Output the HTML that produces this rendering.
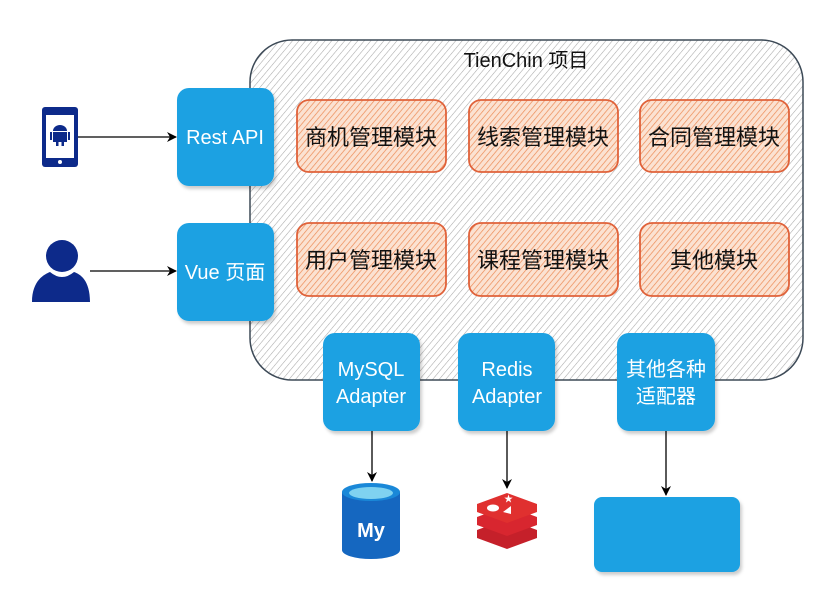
<!DOCTYPE html>
<html><head><meta charset="utf-8"><style>
html,body{margin:0;padding:0;background:#fff;}
svg text{font-family:"Liberation Sans","Noto Sans CJK SC",sans-serif;}
</style></head><body>
<svg width="820" height="596" viewBox="0 0 820 596" xmlns="http://www.w3.org/2000/svg">
<defs>
<pattern id="h" width="5" height="5" patternUnits="userSpaceOnUse" patternTransform="rotate(40)">
<rect width="5" height="5" fill="#fff"/><line x1="0" y1="0" x2="0" y2="5" stroke="#a8a8a8" stroke-width="1.1"/>
</pattern>
<pattern id="o" width="4.5" height="4.5" patternUnits="userSpaceOnUse" patternTransform="rotate(40)">
<rect width="4.5" height="4.5" fill="#fbe2d2"/><line x1="0" y1="0" x2="0" y2="4.5" stroke="#ec8a55" stroke-width="1.4"/>
</pattern>
<marker id="a" markerWidth="10" markerHeight="10" refX="9" refY="5" orient="auto" markerUnits="userSpaceOnUse">
<path d="M0,0 L10,5 L0,10 L3,5 Z" fill="#000"/></marker>
<filter id="s" x="-10%" y="-10%" width="130%" height="130%"><feDropShadow dx="2" dy="3" stdDeviation="1.5" flood-color="#000" flood-opacity="0.2"/></filter>
</defs>
<rect x="250" y="40" width="553" height="340" rx="42" fill="url(#h)" stroke="#3d4a57" stroke-width="1.5"/>
<text x="526" y="67" font-size="20" text-anchor="middle" fill="#111">TienChin 项目</text>
<g fill="url(#o)" stroke="#e0623a" stroke-width="1.8">
<rect x="297" y="100" width="149" height="72" rx="12"/>
<rect x="469" y="100" width="149" height="72" rx="12"/>
<rect x="640" y="100" width="149" height="72" rx="12"/>
<rect x="297" y="223" width="149" height="73" rx="12"/>
<rect x="469" y="223" width="149" height="73" rx="12"/>
<rect x="640" y="223" width="149" height="73" rx="12"/>
</g>
<g font-size="22" text-anchor="middle" fill="#111">
<text x="371" y="145">商机管理模块</text>
<text x="543" y="145">线索管理模块</text>
<text x="714" y="145">合同管理模块</text>
<text x="371" y="268">用户管理模块</text>
<text x="543" y="268">课程管理模块</text>
<text x="714" y="268">其他模块</text>
</g>
<g fill="#1ba1e2" filter="url(#s)">
<rect x="177" y="88" width="97" height="98" rx="12"/>
<rect x="177" y="223" width="97" height="98" rx="12"/>
<rect x="323" y="333" width="97" height="98" rx="12"/>
<rect x="458" y="333" width="97" height="98" rx="12"/>
<rect x="617" y="333" width="98" height="98" rx="12"/>
<rect x="594" y="497" width="146" height="75" rx="8"/>
</g>
<g font-size="20" text-anchor="middle" fill="#fff">
<text x="225" y="144">Rest API</text>
<text x="225" y="279">Vue 页面</text>
<text x="371" y="376">MySQL</text><text x="371" y="403">Adapter</text>
<text x="507" y="376">Redis</text><text x="507" y="403">Adapter</text>
<text x="666" y="376">其他各种</text><text x="666" y="403">适配器</text>
</g>
<g stroke="#000" stroke-width="1.3" marker-end="url(#a)">
<line x1="78" y1="137" x2="176" y2="137"/>
<line x1="90" y1="271" x2="176" y2="271"/>
<line x1="372" y1="431" x2="372" y2="481"/>
<line x1="507" y1="431" x2="507" y2="488"/>
<line x1="666" y1="431" x2="666" y2="495"/>
</g>
<rect x="42" y="107" width="36" height="60" rx="3" fill="#0d2a8a"/>
<rect x="46" y="115" width="28" height="43" fill="#fff"/>
<circle cx="60" cy="162" r="2" fill="#fff"/>
<path d="M53,131 a7,6 0 0 1 14,0 Z M53,132 h14 v10 h-14 Z" fill="#0d2a8a"/>
<rect x="50" y="132" width="2" height="8" fill="#0d2a8a"/><rect x="68" y="132" width="2" height="8" fill="#0d2a8a"/>
<rect x="56" y="141" width="2.5" height="5" fill="#0d2a8a"/><rect x="61.5" y="141" width="2.5" height="5" fill="#0d2a8a"/>
<circle cx="62" cy="256" r="16" fill="#0d2a8a"/>
<path d="M32,302 C32,280 45,274 50,272 Q62,282 74,272 C80,274 90,280 90,302 Z" fill="#0d2a8a"/>
<path d="M342,492 v58 a29,9 0 0 0 58,0 v-58 Z" fill="#1567c0"/>
<ellipse cx="371" cy="492" rx="29" ry="9" fill="#1a88d8"/>
<ellipse cx="371" cy="493" rx="22" ry="6" fill="#7fd2f0"/>
<text x="371" y="537" font-size="20" font-weight="bold" text-anchor="middle" fill="#fff">My</text>
<g fill="#c5202a">
<path d="M477,530 l30,-11 l30,11 v8 l-30,11 l-30,-11 Z"/>
<path d="M477,517 l30,-11 l30,11 v8 l-30,11 l-30,-11 Z" fill="#d8262f"/>
<path d="M477,504 l30,-11 l30,11 v8 l-30,11 l-30,-11 Z" fill="#e0302f"/>
</g>
<ellipse cx="493" cy="508" rx="6" ry="3.5" fill="#fff"/>
<path d="M503,512 l8,-6 l0,8 Z" fill="#fff"/>
<text x="504" y="502" font-size="9" fill="#fff">★</text>
</svg>
</body></html>
